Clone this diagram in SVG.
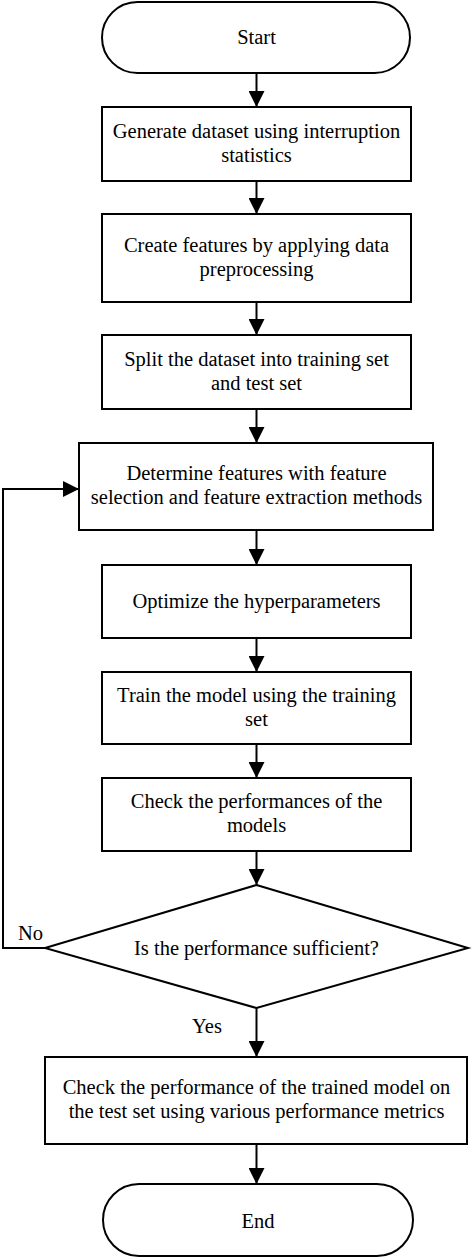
<svg xmlns="http://www.w3.org/2000/svg" width="474" height="1259" viewBox="0 0 474 1259">
<defs>
<marker id="ah" markerUnits="userSpaceOnUse" markerWidth="16" markerHeight="16" refX="16" refY="8" orient="auto">
<path d="M0,0 L16,8 L0,16 z" fill="#000"/>
</marker>
<style>
.s{fill:#fff;stroke:#000;stroke-width:2}
.t{font-family:"Liberation Serif","Times New Roman",serif;font-size:20.5px;fill:#000;text-anchor:middle}
.c{fill:none;stroke:#000;stroke-width:2;marker-end:url(#ah)}
</style>
</defs>
<rect width="474" height="1259" fill="#fff"/>
<g id="connectors">
<line class="c" x1="256.5" y1="73" x2="256.5" y2="107"/>
<line class="c" x1="256.5" y1="181" x2="256.5" y2="214"/>
<line class="c" x1="256.5" y1="302" x2="256.5" y2="335"/>
<line class="c" x1="256.5" y1="409" x2="256.5" y2="443"/>
<line class="c" x1="256.5" y1="530" x2="256.5" y2="565"/>
<line class="c" x1="256.5" y1="638" x2="256.5" y2="672"/>
<line class="c" x1="256.5" y1="744" x2="256.5" y2="778"/>
<line class="c" x1="256.5" y1="851" x2="256.5" y2="885"/>
<line class="c" x1="256.5" y1="1008" x2="256.5" y2="1057"/>
<line class="c" x1="256.5" y1="1144" x2="256.5" y2="1184"/>
<polyline class="c" points="45,948 3,948 3,489 79,489"/>
<text class="t" x="30.5" y="940">No</text>
<text class="t" x="207" y="1033">Yes</text>
</g>
<g id="start">
<rect class="s" x="102" y="2" width="308" height="71" rx="35.5"/>
<text class="t" x="256.5" y="44">Start</text>
</g>
<g id="n1">
<rect class="s" x="102" y="107" width="309" height="74"/>
<text class="t" x="256.5" y="138">Generate dataset using interruption</text>
<text class="t" x="256.5" y="162">statistics</text>
</g>
<g id="n2">
<rect class="s" x="102" y="214" width="309" height="88"/>
<text class="t" x="256.5" y="252">Create features by applying data</text>
<text class="t" x="256.5" y="276">preprocessing</text>
</g>
<g id="n3">
<rect class="s" x="102" y="335" width="309" height="74"/>
<text class="t" x="256.5" y="366">Split the dataset into training set</text>
<text class="t" x="256.5" y="390">and test set</text>
</g>
<g id="n4">
<rect class="s" x="79" y="443" width="354" height="87"/>
<text class="t" x="256.5" y="480">Determine features with feature</text>
<text class="t" x="256.5" y="504">selection and feature extraction methods</text>
</g>
<g id="n5">
<rect class="s" x="102" y="565" width="309" height="73"/>
<text class="t" x="256.5" y="608">Optimize the hyperparameters</text>
</g>
<g id="n6">
<rect class="s" x="102" y="672" width="309" height="72"/>
<text class="t" x="256.5" y="702">Train the model using the training</text>
<text class="t" x="256.5" y="726">set</text>
</g>
<g id="n7">
<rect class="s" x="102" y="778" width="309" height="73"/>
<text class="t" x="256.5" y="808">Check the performances of the</text>
<text class="t" x="256.5" y="832">models</text>
</g>
<g id="decision">
<polygon class="s" points="256.5,885 468,948 256.5,1008 45,948"/>
<text class="t" x="256.5" y="955">Is the performance sufficient?</text>
</g>
<g id="n8">
<rect class="s" x="45" y="1057" width="422" height="87"/>
<text class="t" x="256.5" y="1094">Check the performance of the trained model on</text>
<text class="t" x="256.5" y="1118">the test set using various performance metrics</text>
</g>
<g id="end">
<rect class="s" x="103" y="1184" width="310" height="72" rx="36"/>
<text class="t" x="258" y="1228">End</text>
</g>
</svg>
